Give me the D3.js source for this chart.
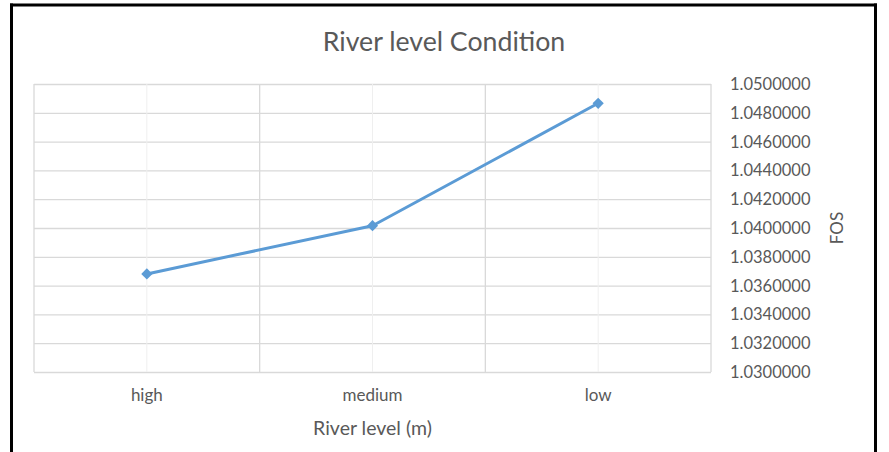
<!DOCTYPE html>
<html>
<head>
<meta charset="utf-8">
<script src="https://cdn.jsdelivr.net/npm/d3@7"></script>
<style>
  body { margin: 0; background: #fff; overflow: hidden; }
  svg { display: block; }
</style>
</head>
<body>
<svg id="svg1" width="889" height="452"></svg>
<script>
// chart data
const categories = ['high', 'medium', 'low'];
const fosValues = [1.03681, 1.04016, 1.04866];
const yTicks = [1.030, 1.032, 1.034, 1.036, 1.038, 1.040, 1.042, 1.044, 1.046, 1.048, 1.050];
const titleText = 'River level Condition';
const xLabelText = 'River level (m)';
const yLabelText = 'FOS';

const svg = d3.select('#svg1');
const width = +svg.attr('width');
const height = +svg.attr('height');
const fontFamily = 'Lato, "Open Sans", sans-serif';
const textColor = '#595959';

// plot area
const margin = { top: 84, right: 178, bottom: 80, left: 34 };
const innerWidth = width - margin.left - margin.right;
const innerHeight = height - margin.top - margin.bottom;

// outer frame: three separate sides (bottom is below the picture)
const frameSides = [
  [11.5, 3.5, 11.5, height],
  [10, 5, 877, 5],
  [875.5, 3.5, 875.5, height]
];
svg.selectAll('.frame').data(frameSides)
  .enter().append('line')
    .attr('class', 'frame')
    .attr('x1', d => d[0]).attr('y1', d => d[1])
    .attr('x2', d => d[2]).attr('y2', d => d[3])
    .attr('stroke', '#000')
    .attr('stroke-width', 3);

const xBand = d3.scaleBand().domain(categories)
  .range([margin.left, margin.left + innerWidth]);
const xCenter = c => xBand(c) + xBand.bandwidth() / 2;

const yScale = d3.scaleLinear()
  .domain([1.030, 1.050])
  .range([margin.top + innerHeight, margin.top]);

// horizontal gridlines
const gridY = svg.append('g')
  .attr('transform', `translate(${margin.left},0)`)
  .call(d3.axisLeft(yScale).tickValues(yTicks).tickSize(-innerWidth).tickFormat(''));
gridY.select('.domain').remove();
gridY.selectAll('.tick text').remove();
gridY.selectAll('.tick line').attr('stroke', '#d9d9d9').attr('stroke-width', 1.3);

// vertical gridlines at category edges
const edges = categories.map(c => xBand(c)).concat([margin.left + innerWidth]);
svg.selectAll('.vgrid').data(edges)
  .enter().append('line')
    .attr('class', 'vgrid')
    .attr('x1', d => d).attr('x2', d => d)
    .attr('y1', margin.top).attr('y2', margin.top + innerHeight)
    .attr('stroke', '#d9d9d9')
    .attr('stroke-width', 1.3);

// faint lines at category centres
svg.selectAll('.cgrid').data(categories)
  .enter().append('line')
    .attr('class', 'cgrid')
    .attr('x1', d => xCenter(d)).attr('x2', d => xCenter(d))
    .attr('y1', margin.top).attr('y2', margin.top + innerHeight)
    .attr('stroke', '#efefef')
    .attr('stroke-width', 1);

// y tick labels on the right
const yFmt = d3.format('.7f');
svg.selectAll('.ytick').data(yTicks)
  .enter().append('text')
    .attr('class', 'ytick')
    .attr('x', margin.left + innerWidth + 19)
    .attr('y', d => yScale(d) + 6)
    .attr('font-family', fontFamily)
    .attr('font-size', 16.5)
    .attr('fill', textColor)
    .text(d => yFmt(d));

// x category labels
svg.selectAll('.xtick').data(categories)
  .enter().append('text')
    .attr('class', 'xtick')
    .attr('x', d => xCenter(d))
    .attr('y', margin.top + innerHeight + 29)
    .attr('text-anchor', 'middle')
    .attr('font-family', fontFamily)
    .attr('font-size', 17)
    .attr('fill', textColor)
    .text(d => d);

// line
const line = d3.line()
  .x((d, i) => xCenter(categories[i]))
  .y(d => yScale(d));

svg.append('path')
  .datum(fosValues)
  .attr('fill', 'none')
  .attr('stroke', '#5b9bd5')
  .attr('stroke-width', 3)
  .attr('stroke-linejoin', 'round')
  .attr('d', line);

// diamond markers
svg.selectAll('.marker').data(fosValues)
  .enter().append('path')
    .attr('class', 'marker')
    .attr('d', d3.symbol().type(d3.symbolDiamond2).size(80))
    .attr('transform', (d, i) => `translate(${xCenter(categories[i])},${yScale(d)})`)
    .attr('fill', '#5b9bd5');

// title
svg.append('text')
  .attr('x', 444)
  .attr('y', 51)
  .attr('text-anchor', 'middle')
  .attr('font-family', fontFamily)
  .attr('font-size', 26.7)
  .attr('fill', textColor)
  .text(titleText);

// x axis title
svg.append('text')
  .attr('x', margin.left + innerWidth / 2)
  .attr('y', 435)
  .attr('text-anchor', 'middle')
  .attr('font-family', fontFamily)
  .attr('font-size', 19.5)
  .attr('fill', textColor)
  .text(xLabelText);

// y axis title
const yLabelX = 843, yLabelY = margin.top + innerHeight / 2;
svg.append('text')
  .attr('x', yLabelX)
  .attr('y', yLabelY)
  .attr('transform', `rotate(-90,${yLabelX},${yLabelY})`)
  .attr('text-anchor', 'middle')
  .attr('font-family', fontFamily)
  .attr('font-size', 17)
  .attr('fill', textColor)
  .text(yLabelText);
</script>
</body>
</html>
